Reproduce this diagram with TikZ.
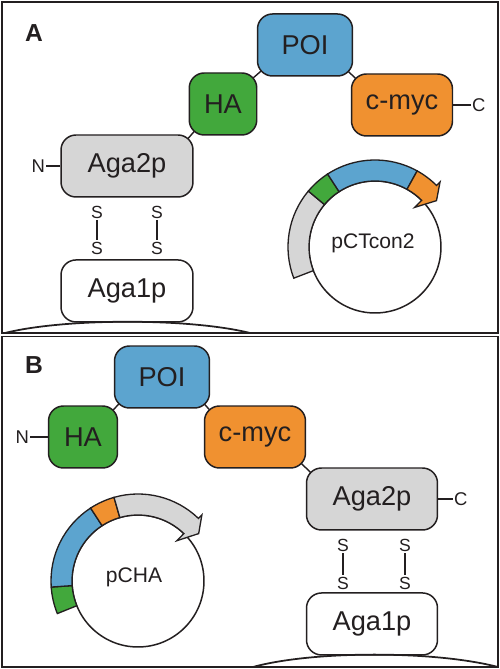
\documentclass[tikz,border=0pt]{standalone}
\usepackage{fontspec}
\setmainfont{Liberation Sans}
\usetikzlibrary{positioning, backgrounds}
\definecolor{inkdark}{RGB}{35,31,32}
\definecolor{poiblue}{RGB}{92,164,207}
\definecolor{hagreen}{RGB}{66,168,60}
\definecolor{mycorange}{RGB}{240,145,48}
\definecolor{agagray}{RGB}{214,214,214}

\begin{document}
\begin{tikzpicture}[x=0.02cm, y=0.02cm,
  dom/.style={rectangle, draw=inkdark, line width=0.85pt, rounded corners=0.3cm, minimum height=1.24cm, inner sep=0pt, text=inkdark, font=\fontsize{15.5pt}{18pt}\selectfont},
  tail/.style={inner sep=0.6pt, text=inkdark, font=\fontsize{10.5pt}{12pt}\selectfont},
  sulfur/.style={inner sep=1pt, text=inkdark, font=\fontsize{10pt}{12pt}\selectfont},
  panel/.style={draw=inkdark, line width=1.1pt},
  tag/.style={text=inkdark, font=\fontsize{14pt}{16pt}\selectfont\bfseries},
  link/.style={draw=inkdark, line width=0.8pt},
  ring/.style={draw=inkdark, line width=0.85pt},
  seg/.style={draw=inkdark, line width=0.75pt, line join=miter},
  plabel/.style={text=inkdark, font=\fontsize{12pt}{14pt}\selectfont},
  membrane/.style={draw=inkdark, line width=1pt}
]

\useasboundingbox (0,0) rectangle (500,669);

\draw[panel] (2,336) rectangle (498,667);
\draw[panel] (2,2) rectangle (498,332.5);

\node[tag] (tagA) at (34,636) {A};
\node[tag] (tagB) at (34,304) {B};

\node[dom, fill=poiblue, minimum width=1.9cm] (poiA) at (305,624) {POI};
\node[dom, fill=hagreen, minimum width=1.35cm] (haA) at (223,565) {HA};
\node[dom, fill=mycorange, minimum width=2.02cm] (cmycA) at (402,564) {c-myc};
\node[dom, fill=agagray, minimum width=2.64cm] (aga2pA) at (127,503) {Aga2p};
\node[dom, fill=white, minimum width=2.64cm, below=1.23cm of aga2pA] (aga1pA) {Aga1p};
\node[tail, left=0.28cm of aga2pA] (nA) {N};
\node[tail, right=0.35cm of cmycA] (cA) {C};

\node[sulfur] (sA1) at (97,457) {S};
\node[sulfur] (sA2) at (97,421) {S};
\node[sulfur] (sA3) at (157,457) {S};
\node[sulfur] (sA4) at (157,421) {S};
\draw[link] (sA1.south) -- (sA2.north);
\draw[link] (sA3.south) -- (sA4.north);
\draw[link] (nA.east) -- (aga2pA.west);
\draw[link] (cmycA.east) -- (cA.west);

\begin{scope}[on background layer]
\draw[link] ([shift={(-15,-15)}]aga2pA.north east) -- ([shift={(15,15)}]haA.south west);
\draw[link] ([shift={(-15,-15)}]haA.north east) -- ([shift={(15,15)}]poiA.south west);
\draw[link] ([shift={(-15,15)}]poiA.south east) -- ([shift={(15,-15)}]cmycA.north west);
\end{scope}

\draw[membrane] (5,336) .. controls (65,351) and (190,351) .. (250,336);

\begin{scope}[shift={(375,422)}]
\draw[ring] (0,0) circle[radius=1.32cm];
\foreach \col/\from/\to in {agagray/201/140, hagreen/140/123, poiblue/123/61}
  \filldraw[seg, fill=\col] (\from:66) -- (\from:87) arc[start angle=\from, end angle=\to, radius=1.74cm] -- (\to:66) arc[start angle=\to, end angle=\from, radius=1.32cm] -- cycle;
\filldraw[seg, fill=mycorange] (61:66) -- (61:87) arc[start angle=61, end angle=45, radius=1.74cm] -- (45:92) -- (37:77) -- (45:56) -- (45:66) arc[start angle=45, end angle=61, radius=1.32cm] -- cycle;
\end{scope}
\node[plabel] (pctcon) at (373,426) {pCTcon2};

\node[dom, fill=poiblue, minimum width=1.9cm] (poiB) at (162,292) {POI};
\node[dom, fill=hagreen, minimum width=1.38cm] (haB) at (83,232) {HA};
\node[dom, fill=mycorange, minimum width=2.02cm] (cmycB) at (255,232) {c-myc};
\node[dom, fill=agagray, minimum width=2.62cm] (aga2pB) at (372,170) {Aga2p};
\node[dom, fill=white, minimum width=2.62cm, below=1.23cm of aga2pB] (aga1pB) {Aga1p};
\node[tail, left=0.35cm of haB] (nB) {N};
\node[tail, right=0.29cm of aga2pB] (cB) {C};

\node[sulfur] (sB1) at (343,124) {S};
\node[sulfur] (sB2) at (343,86) {S};
\node[sulfur] (sB3) at (405,124) {S};
\node[sulfur] (sB4) at (405,86) {S};
\draw[link] (sB1.south) -- (sB2.north);
\draw[link] (sB3.south) -- (sB4.north);
\draw[link] (nB.east) -- (haB.west);
\draw[link] (aga2pB.east) -- (cB.west);

\begin{scope}[on background layer]
\draw[link] ([shift={(-15,-15)}]haB.north east) -- ([shift={(15,15)}]poiB.south west);
\draw[link] ([shift={(-15,15)}]poiB.south east) -- ([shift={(15,-15)}]cmycB.north west);
\draw[link] ([shift={(-15,15)}]cmycB.south east) -- ([shift={(15,-15)}]aga2pB.north west);
\end{scope}

\draw[membrane] (253,2) .. controls (313,18.5) and (435,18.5) .. (498,2);

\begin{scope}[shift={(138,88)}]
\draw[ring] (0,0) circle[radius=1.32cm];
\foreach \col/\from/\to in {hagreen/202/184, poiblue/184/123, mycorange/123/106}
  \filldraw[seg, fill=\col] (\from:66) -- (\from:87) arc[start angle=\from, end angle=\to, radius=1.74cm] -- (\to:66) arc[start angle=\to, end angle=\from, radius=1.32cm] -- cycle;
\filldraw[seg, fill=agagray] (106:66) -- (106:87) arc[start angle=106, end angle=46, radius=1.74cm] -- (46:92) -- (38:77) -- (46:56) -- (46:66) arc[start angle=46, end angle=106, radius=1.32cm] -- cycle;
\end{scope}
\node[plabel] (pcha) at (134,92) {pCHA};

\end{tikzpicture}
\end{document}
